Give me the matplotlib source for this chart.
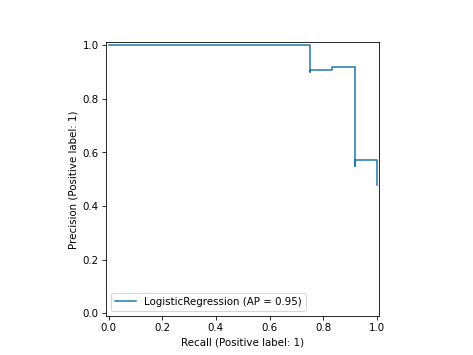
import matplotlib
matplotlib.use("Agg")
import matplotlib.pyplot as plt

# precision-recall points, recall decreasing
recall = [1.0, 1.0, 0.917, 0.917, 0.833, 0.833, 0.75, 0.75, 0.0]
precision = [0.48, 0.571, 0.55, 0.917, 0.909, 0.909, 0.9, 1.0, 1.0]
label = "LogisticRegression (AP = 0.95)"

fig, ax = plt.subplots(figsize=(6.4, 4.8), dpi=74)
ax.plot(recall, precision, drawstyle="steps-post", label=label)
ax.set_xlim(-0.01, 1.01)
ax.set_ylim(-0.01, 1.01)
ax.set_aspect("equal")
ax.set_xlabel("Recall (Positive label: 1)")
ax.set_ylabel("Precision (Positive label: 1)")
ax.legend(loc="lower left")
fig.savefig("out.png", dpi=74)
